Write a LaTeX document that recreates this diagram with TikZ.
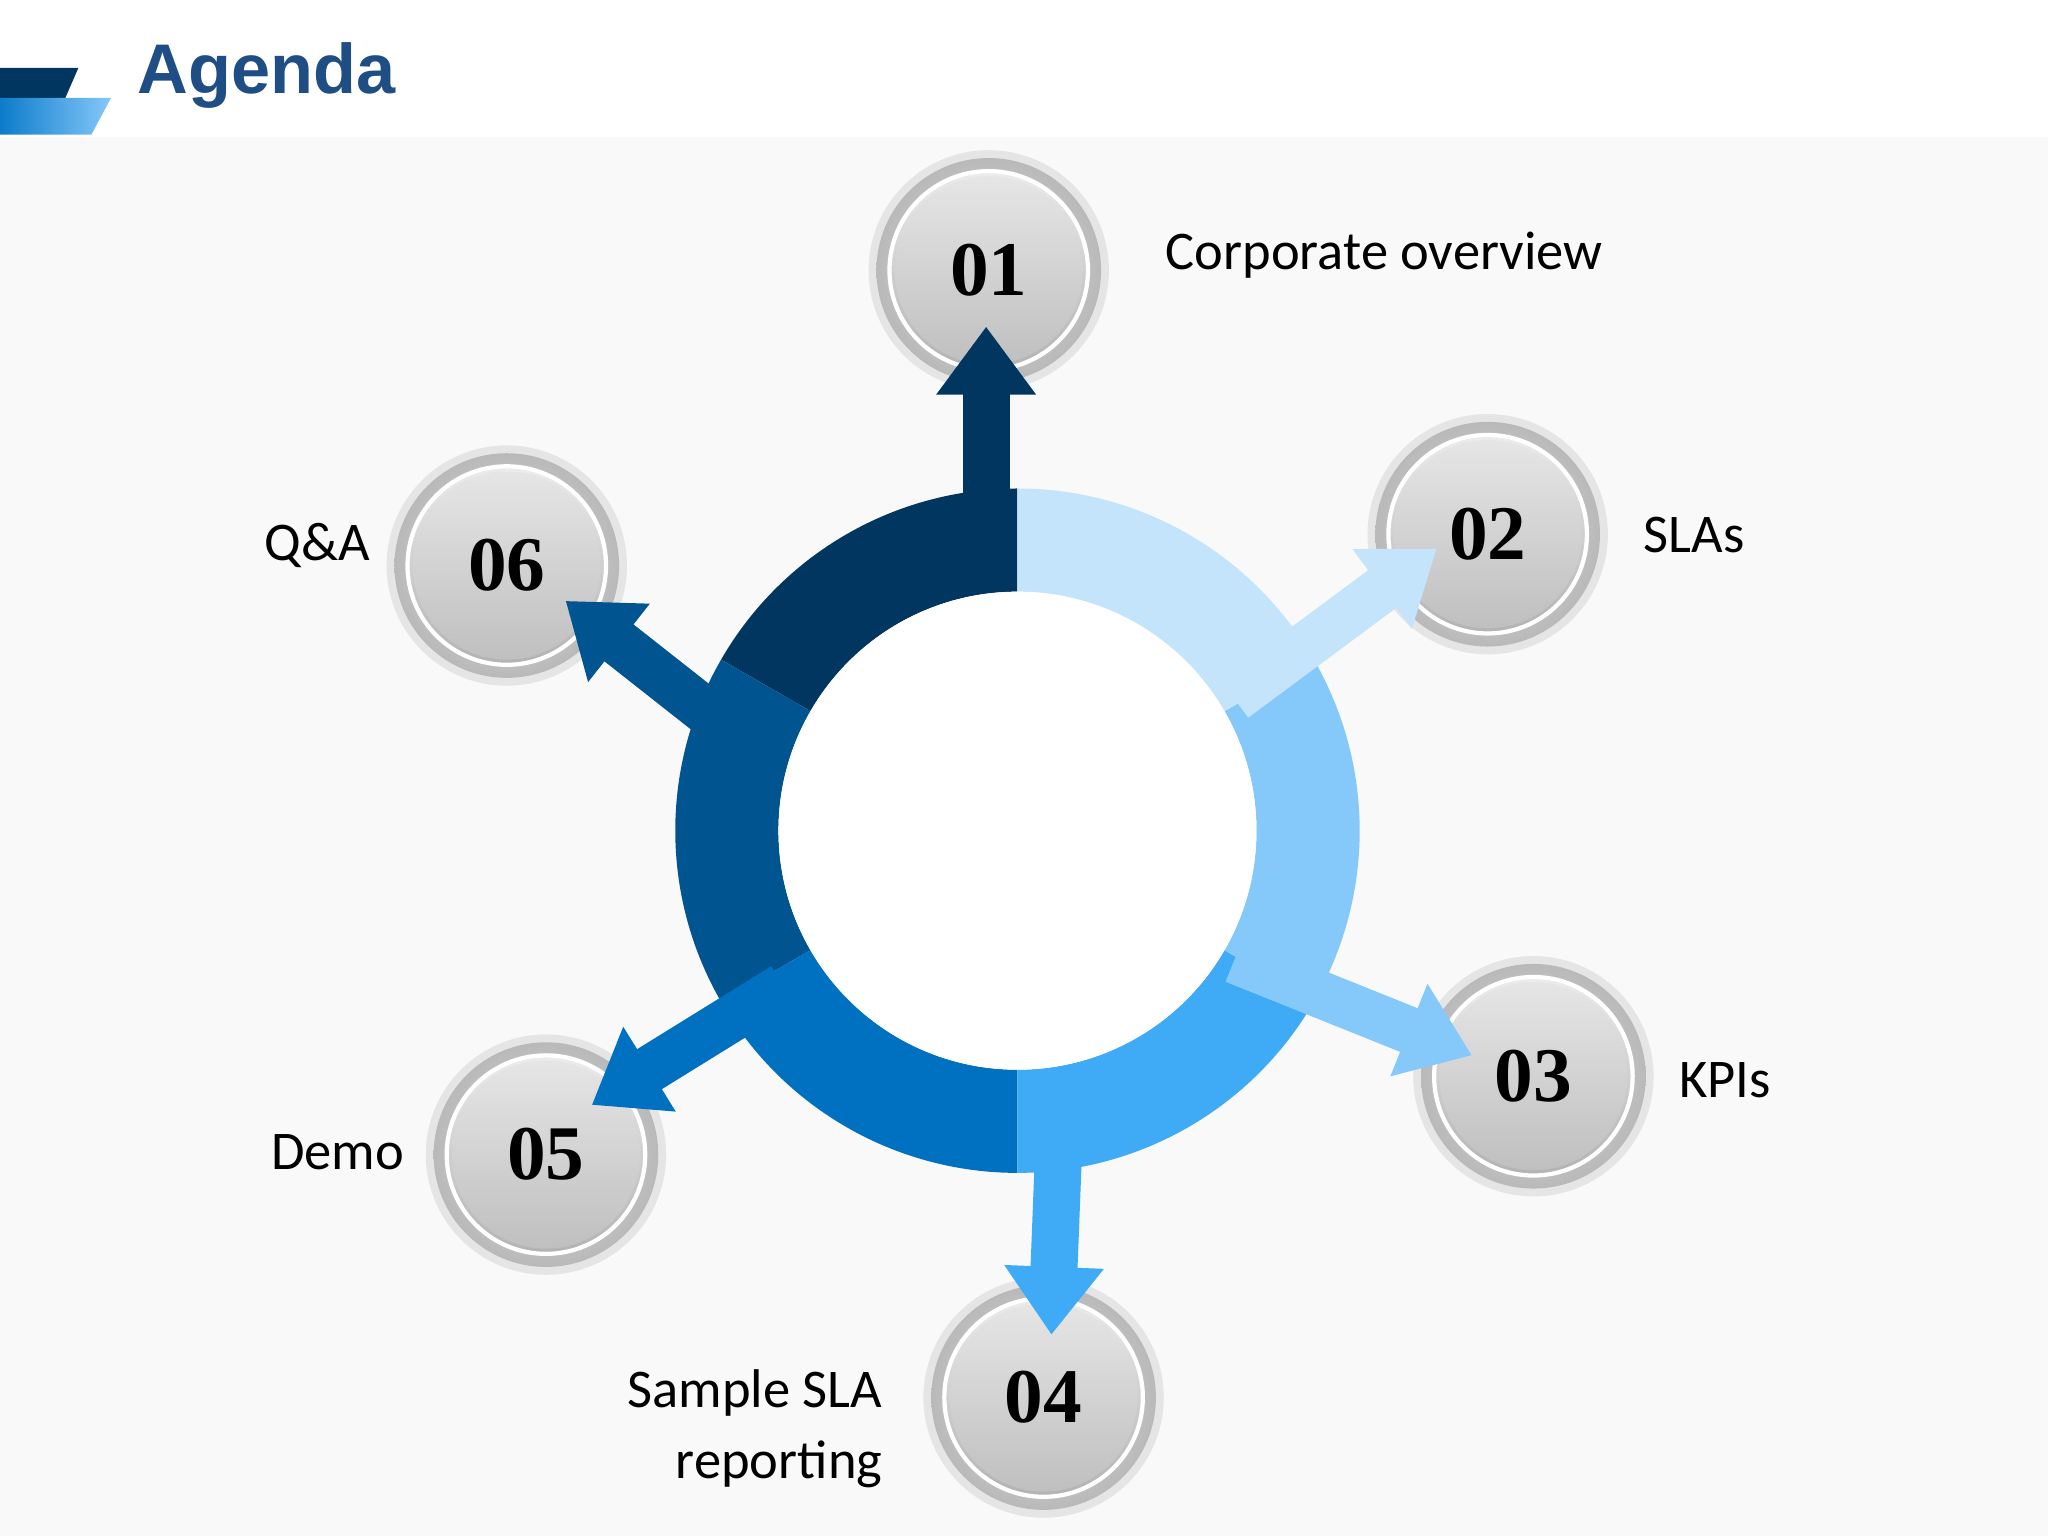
\documentclass[tikz,border=0pt]{standalone}
\usepackage{fontspec}
\setmainfont{Carlito}
\newfontfamily\numfont{Liberation Serif}
\newfontfamily\titlefont{Liberation Sans}
\usetikzlibrary{arrows.meta}
\definecolor{segA}{HTML}{003660}
\definecolor{segB}{HTML}{00548F}
\definecolor{segC}{HTML}{0070C0}
\definecolor{segD}{HTML}{3FAAF5}
\definecolor{segE}{HTML}{85C8FA}
\definecolor{segF}{HTML}{C4E4FB}
\definecolor{titleblue}{HTML}{1F4E85}
\tikzset{
  arr/.style={line width=0.47cm,-{Triangle[length=0.68cm,width=0.95cm]}},
  lbl/.style={font=\fontsize{15.5}{18}\selectfont,text=black,inner sep=0pt},
  num/.style={font=\numfont\bfseries\fontsize{22}{24}\selectfont,inner sep=0pt}
}
\newcommand{\badge}[3]{%
  \fill[gray!20] (#1,#2) circle (92);
  \shade[inner color=gray!20,outer color=gray!55] (#1,#2) circle (86);
  \shade[top color=gray!15,bottom color=gray!60] (#1,#2) circle (76);
  \draw[white,line width=1.2pt] (#1,#2) circle (76);
  \shade[top color=gray!20,bottom color=gray!50] (#1,#2) circle (72);
  \node[num] (n#3) at (#1,#2) {#3};
}
\begin{document}
\begin{tikzpicture}[x=0.01306cm,y=-0.01306cm]
\useasboundingbox (0,0) rectangle (1568,1176);
\fill[gray!5] (0,0) rectangle (1568,1176);
\fill[white] (0,0) rectangle (1568,105);
\fill[segA] (0,52) -- (60,52) -- (50,75) -- (0,75) -- cycle;
\shade[left color=segC!80!segD,right color=segE] (0,75) -- (85,75) -- (70,103) -- (0,103) -- cycle;
\node[anchor=west,inner sep=0pt,text=titleblue,font=\titlefont\bfseries\fontsize{20}{24}\selectfont] (title) at (105,58) {Agenda};
% ring
\begin{scope}[shift={(779,636)},yscale=-1]
\foreach \a/\c in {90/segA,150/segB,210/segC,270/segD,330/segE,30/segF}{
  \fill[\c] (\a:262) arc[start angle=\a,end angle=\a+60,radius=262]
     -- ({\a+60}:183) arc[start angle=\a+60,end angle=\a,radius=183] -- cycle;
}
\fill[white] (0,0) circle (183);
\end{scope}
% badges
\badge{757}{207}{01}
\badge{1139}{409}{02}
\badge{1174}{824}{03}
\badge{799}{1070}{04}
\badge{418}{884}{05}
\badge{388}{433}{06}
% arrows
\coordinate (s1) at (755,380); \coordinate (t1) at (755,250);
\coordinate (s2) at (945,535); \coordinate (t2) at (1100,420);
\coordinate (s3) at (945,735); \coordinate (t3) at (1127,808);
\coordinate (s4) at (810,893); \coordinate (t4) at (805,1022);
\coordinate (s5) at (600,755); \coordinate (t5) at (453,846);
\coordinate (s6) at (560,560); \coordinate (t6) at (433,460);
\draw[arr,segA] (s1) -- (t1);
\draw[arr,segF] (s2) -- (t2);
\draw[arr,segE] (s3) -- (t3);
\draw[arr,segD] (s4) -- (t4);
\draw[arr,segC] (s5) -- (t5);
\draw[arr,segB] (s6) -- (t6);
% labels
\node[lbl,anchor=west] (l1) at (892,195) {Corporate overview};
\node[lbl,anchor=west] (l2) at (1258,410) {SLAs};
\node[lbl,anchor=west] (l3) at (1285,827) {KPIs};
\node[lbl,anchor=east,align=right] (l4) at (676,1094) {Sample SLA\\[2pt]reporting};
\node[lbl,anchor=east] (l5) at (310,882) {Demo};
\node[lbl,anchor=east] (l6) at (284,418) {Q\&A};
\end{tikzpicture}
\end{document}
